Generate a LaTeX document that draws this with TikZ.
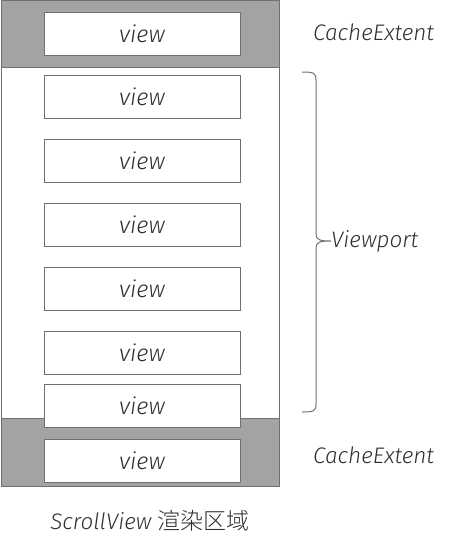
\documentclass[tikz,border=0pt]{standalone}
\usepackage{fontspec}
\setmainfont{Fira Sans Light}
\newfontfamily\cjk{Noto Sans CJK SC Light}
\definecolor{band}{HTML}{A3A3A3}
\definecolor{edge}{HTML}{707070}
\definecolor{ink}{HTML}{2E2E2E}
\begin{document}
\begin{tikzpicture}[x=1pt,y=-1pt,
  viewbox/.style={draw=edge,line width=1pt,fill=white,minimum width=196pt,minimum height=43pt,inner sep=0pt,font=\fontsize{23.5}{25}\selectfont\itshape,text=ink},
  lbl/.style={font=\fontsize{22.5}{25}\selectfont\itshape,text=ink,inner sep=0pt}]
\useasboundingbox (0,0) rectangle (474,539);
% bands
\fill[band] (1,0) rectangle (279,67);
\fill[band] (1,418) rectangle (279,486);
\draw[edge,line width=1pt] (1,0) rectangle (279,486);
\draw[edge,line width=1pt] (1,67) -- (279,67);
\draw[edge,line width=1pt] (1,418) -- (279,418);
% views
\node[viewbox] (v0) at (142,33.5) {view};
\node[viewbox] (v1) at (142,97) {view};
\node[viewbox] (v2) at (142,161) {view};
\node[viewbox] (v3) at (142,224.5) {view};
\node[viewbox] (v4) at (142,288.5) {view};
\node[viewbox] (v5) at (142,352.5) {view};
\node[viewbox] (v6) at (142,406) {view};
\node[viewbox] (v7) at (142,460.5) {view};
% labels
\node[lbl,anchor=west] (c1) at (313,32) {CacheExtent};
\node[lbl,anchor=west] (c2) at (313,455) {CacheExtent};
\node[lbl,anchor=west] (vp) at (331,241) {Viewport};
\node[lbl] (sv) at (150,521) {ScrollView {\cjk\upshape\fontsize{23}{25}\selectfont 渲染区域}};
% brace
\coordinate (bt) at (302,72);
\coordinate (bb) at (302,412);
\coordinate (tip) at (vp.west);
\draw[edge,line width=1pt,line join=round]
  (bt) .. controls (314,72) and (316,73) .. (316,80)
  -- (316,234) .. controls (316,240) and (320,241) .. (tip)
  (tip) .. controls (320,241) and (316,242) .. (316,248)
  -- (316,404) .. controls (316,411) and (314,412) .. (bb);
\end{tikzpicture}
\end{document}
